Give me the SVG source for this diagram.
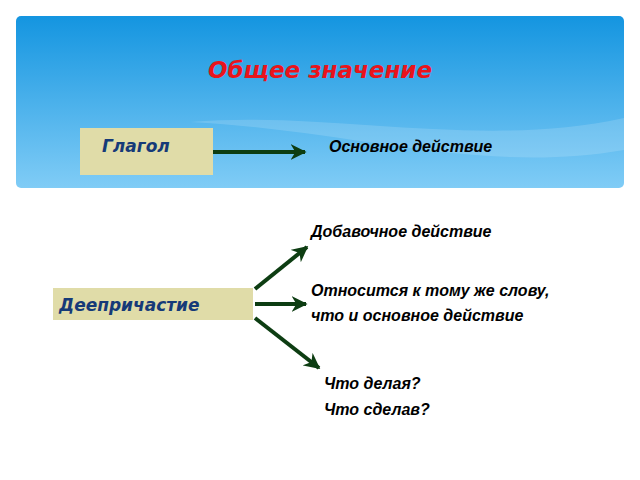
<svg xmlns="http://www.w3.org/2000/svg" width="640" height="480" viewBox="0 0 640 480">
<defs>
<linearGradient id="sky" x1="0" y1="0" x2="0" y2="1"><stop offset="0" stop-color="#1495e0"/><stop offset="1" stop-color="#80ccf6"/></linearGradient>
<marker id="ah" viewBox="0 0 10 10" refX="9" refY="5" markerWidth="4" markerHeight="4" orient="auto" markerUnits="strokeWidth"><path d="M0,0 L10,5 L0,10 L3,5 Z" fill="#0d3d12"/></marker>
<style>
.lbl{font-family:"DejaVu Sans",sans-serif;font-weight:bold;font-style:italic;fill:#163a78;font-size:17px}
.t{font-family:"Liberation Sans",Arial,sans-serif;font-weight:bold;font-style:italic;font-size:16px;fill:#000}
.box{fill:#e0dca8}
.c{stroke:#0d3d12;stroke-width:4;fill:none;marker-end:url(#ah)}
</style>
</defs>
<rect width="640" height="480" fill="#fff"/>
<g id="banner">
<rect x="16" y="16" width="608" height="172" rx="5" fill="url(#sky)"/>
<path d="M190,122 C330,110 480,150 624,118 L624,150 C480,175 350,130 190,122 Z" fill="#fff" opacity="0.15"/>
<text x="320" y="78" text-anchor="middle" font-family="DejaVu Sans,sans-serif" font-weight="bold" font-style="italic" font-size="23" fill="#e8141c">Общее значение</text>
</g>
<g id="glagol"><rect class="box" x="80" y="128" width="133" height="47"/><text class="lbl" x="102" y="152">Глагол</text></g>
<g id="osnovnoe"><text class="t" x="329" y="152">Основное действие</text></g>
<g id="deeprich"><rect class="box" x="53" y="288" width="200" height="32"/><text class="lbl" x="59" y="311">Деепричастие</text></g>
<g id="dobav"><text class="t" x="311" y="237">Добавочное действие</text></g>
<g id="otnos"><text class="t" x="311" y="296">Относится к тому же слову,</text><text class="t" x="311" y="321">что и основное действие</text></g>
<g id="vopr"><text class="t" x="324" y="389">Что делая?</text><text class="t" x="324" y="415">Что сделав?</text></g>
<g id="connectors">
<line class="c" x1="213" y1="152" x2="305" y2="152"/>
<line class="c" x1="255" y1="289" x2="307" y2="247"/>
<line class="c" x1="255" y1="304" x2="306" y2="304"/>
<line class="c" x1="255" y1="318" x2="319" y2="368"/>
</g>
</svg>
